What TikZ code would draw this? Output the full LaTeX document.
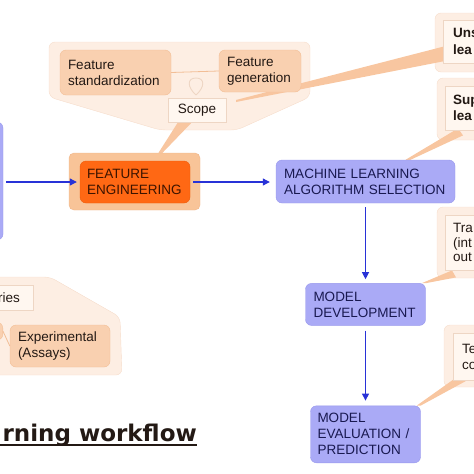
\documentclass[tikz,border=0pt]{standalone}
\usepackage{fontspec}
\setmainfont{Liberation Sans}
\newfontfamily\titlefont{DejaVu Sans}
\usetikzlibrary{arrows.meta,positioning,backgrounds}
\definecolor{lav}{RGB}{170,170,246}
\definecolor{lavline}{RGB}{152,152,236}
\definecolor{navytext}{RGB}{25,25,80}
\definecolor{flowblue}{RGB}{40,50,215}
\definecolor{feouterfill}{RGB}{248,196,152}
\definecolor{feouterline}{RGB}{240,182,138}
\definecolor{feinnerfill}{RGB}{255,104,20}
\definecolor{feinnerline}{RGB}{236,92,12}
\definecolor{fetext}{RGB}{60,20,0}
\definecolor{panelfill}{RGB}{253,238,227}
\definecolor{panelline}{RGB}{246,221,204}
\definecolor{featfill}{RGB}{249,208,176}
\definecolor{featline}{RGB}{242,190,150}
\definecolor{tagfill}{RGB}{255,247,240}
\definecolor{tagline}{RGB}{238,214,196}
\definecolor{wedgefill}{RGB}{248,198,160}
\definecolor{darktext}{RGB}{35,25,20}

\begin{document}
\begin{tikzpicture}[x=1pt,y=-1pt,
	every node/.style={font=\fontsize{13.5}{16}\selectfont},
	lavbox/.style={draw=lavline,fill=lav,rounded corners=6pt,text=navytext,align=left,inner xsep=8pt,inner ysep=0pt},
	feouterbox/.style={draw=feouterline,fill=feouterfill,rounded corners=5pt},
	feinnerbox/.style={draw=feinnerline,fill=feinnerfill,rounded corners=6pt,text=fetext,align=left,inner xsep=7pt,inner ysep=0pt},
	featbox/.style={draw=featline,fill=featfill,rounded corners=6pt,text=darktext,align=left,inner xsep=8pt,inner ysep=0pt},
	tagbox/.style={draw=tagline,fill=tagfill,text=darktext,align=left,inner ysep=0pt},
	bgpanel/.style={draw=panelline,fill=panelfill,rounded corners=6pt},
	calloutwedge/.style={fill=wedgefill},
	flowarrow/.style={draw=flowblue,line width=1.1pt,-{Triangle[length=7pt,width=7pt]}}]
	\useasboundingbox (0,0) rectangle (474,474);
	\clip (0,0) rectangle (474,474);

	% main flow
	\node[lavbox,minimum width=23pt,minimum height=118pt] (source) at (-8.5,181) {};
	\node[feouterbox,minimum width=131pt,minimum height=57pt] (feouter) at (134.5,181.5) {};
	\node[feinnerbox,text width=96pt,minimum height=42pt] (fe) at (135,182) {FEATURE\\ENGINEERING};
	\node[lavbox,text width=163pt,minimum height=43pt] (mlsel) at (365.5,181.5) {MACHINE LEARNING\\ALGORITHM SELECTION};
	\node[lavbox,text width=104pt,minimum height=42pt,below=80pt of mlsel] (mdev) {MODEL\\DEVELOPMENT};
	\node[lavbox,text width=96pt,minimum height=57pt,inner xsep=7pt,below=80pt of mdev] (meval) {MODEL\\EVALUATION /\\PREDICTION};

	\draw[flowarrow,shorten <=3pt,shorten >=3pt] (source.east |- fe.west) -- (fe.west);
	\draw[flowarrow,shorten <=3pt,shorten >=6pt] (fe.east) -- (mlsel.west |- fe.east);
	\draw[flowarrow,shorten <=4pt,shorten >=4pt] (mlsel.south) -- (mdev.north);
	\draw[flowarrow,shorten <=5pt,shorten >=5pt] (mdev.south) -- (meval.north);

	% feature engineering scope
	\node[featbox,text width=95pt,minimum height=45pt] (fstd) at (115.5,72.5) {Feature\\standardization};
	\node[featbox,text width=66pt,minimum height=42pt] (fgen) at (260,71) {Feature\\generation};
	\draw[featline,line width=0.8pt] (fstd.east) -- (fgen.west);
	\draw[tagline,line width=0.9pt,fill=panelfill] (196,95) .. controls (187,87) and (187,78) .. (196,78) .. controls (205,78) and (205,87) .. (196,95);
	\node[tagbox,minimum width=58pt,minimum height=24pt] (scope) at (197,110) {Scope};

	% data sources
	\node[tagbox,anchor=north east,inner xsep=13pt,minimum height=25pt] (repo) at (33,285) {\hspace*{20pt}ories};
	\node[featbox,anchor=north east,minimum width=40pt,minimum height=18pt] (datapart) at (3,322) {};
	\node[featbox,text width=84pt,minimum height=42pt] (assay) at (60,346) {Experimental\\(Assays)};
	\draw[featline,line width=0.8pt] (datapart.east) -- (assay.west);

	% right-hand notes
	\node[tagbox,anchor=north west,text width=40pt,inner xsep=10pt,minimum height=43pt,font=\fontsize{13.5}{17}\selectfont\bfseries] (unsup) at (443,20) {Uns\\lea};
	\node[tagbox,anchor=north west,text width=40pt,inner xsep=8pt,minimum height=44pt,font=\fontsize{13.5}{16}\selectfont\bfseries] (sup) at (445,86) {Sup\\lea};
	\node[tagbox,anchor=north west,text width=40pt,inner xsep=8pt,minimum height=55pt,font=\fontsize{13.5}{14.5}\selectfont] (train) at (445,215) {Tra\\(int\\out};
	\node[tagbox,anchor=north west,text width=40pt,inner xsep=9pt,minimum height=47pt] (test) at (453,333) {Te\\co};

	% title
	\node[anchor=base east,inner sep=0pt,text=darktext,font=\titlefont\bfseries\fontsize{23}{28}\selectfont] (title) at (197,441) {rning workflow};
	\draw[darktext,line width=1.8pt] ([xshift=-10pt,yshift=-4pt]title.base west) -- ([yshift=-4pt]title.base east);

	\begin{scope}[on background layer]
		\clip (0,0) rectangle (474,474);
		\draw[bgpanel] (49,42) -- (310,42) -- (310,97) -- (237,130) -- (160,130) -- (49,97) -- cycle;
		\draw[bgpanel] (-20,277) -- (50,277) -- (120,317) -- (122,375) -- (-20,375) -- cycle;
		\draw[bgpanel] (435,13) rectangle (495,72);
		\draw[bgpanel] (437,78) rectangle (495,140);
		\draw[bgpanel] (437,207) rectangle (495,278);
		\draw[bgpanel] (444,325) rectangle (495,387);
		% callout pointers
		\fill[calloutwedge] ([xshift=-19pt]scope.south) -- ([xshift=-5pt]scope.south) -- ([xshift=28pt]feouter.north) -- ([xshift=24pt]feouter.north) -- cycle;
		\fill[calloutwedge] (236,100) -- ([yshift=-5pt]unsup.west) -- ([yshift=2pt]unsup.south west) -- (236,102) -- cycle;
		\fill[calloutwedge] ([xshift=40pt]mlsel.north) -- ([xshift=45pt]mlsel.north) -- ([xshift=18pt,yshift=-5pt]sup.south west) -- ([xshift=13pt,yshift=2pt]sup.south west) -- cycle;
		\fill[calloutwedge] ([xshift=-4pt]mdev.north east) -- (mdev.north east) -- ([xshift=11pt,yshift=-7pt]train.south west) -- ([xshift=7pt]train.south west) -- cycle;
		\fill[calloutwedge] ([xshift=-4pt]meval.north east) -- (meval.north east) -- ([xshift=14pt]test.south west) -- ([xshift=9pt,yshift=7pt]test.south west) -- cycle;
	\end{scope}
\end{tikzpicture}
\end{document}
